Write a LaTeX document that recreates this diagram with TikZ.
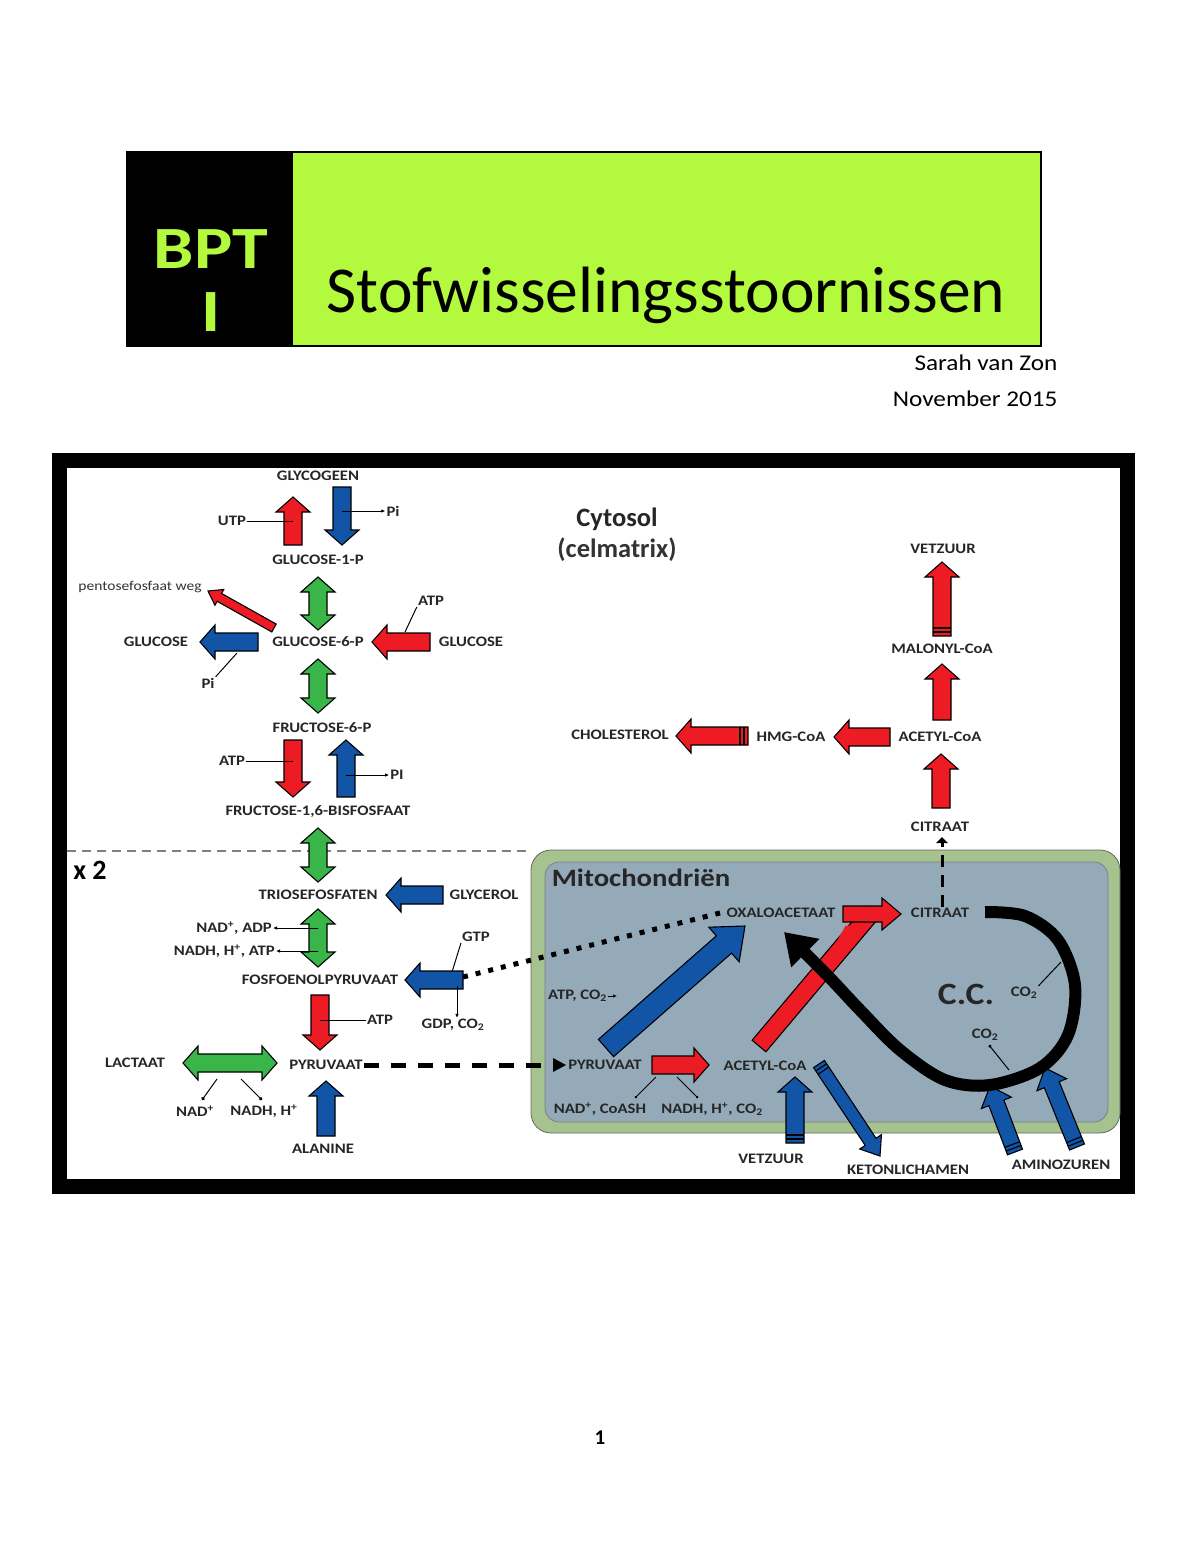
\documentclass[tikz,border=0pt]{standalone}
\usepackage{fontspec}
\setmainfont{Carlito}
\newfontfamily\lblfont{Carlito}[FakeStretch=1.15]
\newfontfamily\widefont{Carlito}[FakeStretch=1.2]
\newfontfamily\authfont{Carlito}[FakeStretch=1.12]
\usetikzlibrary{calc,arrows.meta}
\definecolor{hred}{RGB}{237,28,36}
\definecolor{hblue}{RGB}{18,84,166}
\definecolor{hgreen}{RGB}{57,181,74}
\definecolor{lime}{RGB}{179,249,62}
\definecolor{mitoout}{RGB}{166,194,142}
\definecolor{mitoin}{RGB}{148,170,185}
\def\sw{9pt}\def\hw{17pt}\def\hl{15pt}
\tikzset{
  blk/.style={draw=black, line width=1.1pt, line join=miter},
  lbl/.style={font=\lblfont\fontsize{14.5}{16}\selectfont\bfseries, inner sep=1pt, text=black!85},
  thin/.style={draw=black, line width=1pt},
  tip/.style={-{Latex[length=4pt,width=3.5pt]}},
}
\newcommand\barrow[3]{%
  \coordinate (bhB) at ($(#3)!\hl!(#2)$);
  \draw[blk,fill=#1] ($(#2)!\sw!90:(#3)$) -- ($(bhB)!\sw!90:(#3)$) -- ($(bhB)!\hw!90:(#3)$) -- (#3)
    -- ($(bhB)!\hw!-90:(#3)$) -- ($(bhB)!\sw!-90:(#3)$) -- ($(#2)!\sw!-90:(#3)$) -- cycle;}
\newcommand\darrow[3]{%
  \coordinate (bhA) at ($(#2)!\hl!(#3)$);
  \coordinate (bhB) at ($(#3)!\hl!(#2)$);
  \draw[blk,fill=#1] (#2) -- ($(bhA)!\hw!90:(#3)$) -- ($(bhA)!\sw!90:(#3)$) -- ($(bhB)!\sw!90:(#3)$)
    -- ($(bhB)!\hw!90:(#3)$) -- (#3) -- ($(bhB)!\hw!-90:(#3)$) -- ($(bhB)!\sw!-90:(#3)$)
    -- ($(bhA)!\sw!-90:(#3)$) -- ($(bhA)!\hw!-90:(#3)$) -- cycle;}
\newcommand\stripes[2]{%
  \foreach \dd in {4pt,8pt}{%
    \coordinate (stp) at ($(#1)!\dd!(#2)$);
    \draw[blk] ($(stp)!\sw!90:(#2)$) -- ($(stp)!\sw!-90:(#2)$);}}
\begin{document}
\begin{tikzpicture}[x=1pt,y=-1pt]
\useasboundingbox (0,0) rectangle (1200,1553);
\fill[white] (0,0) rectangle (1200,1553);
% ---------- header ----------
\fill[black] (127,152) rectangle (293,346);
\fill[lime] (293,152) rectangle (1041,346);
\draw[line width=2pt] (127,152) rectangle (1041,346);
\node[font=\widefont\fontsize{60}{60}\selectfont\bfseries, text=lime] (bpt) at (211,249) {BPT};
\node[font=\widefont\fontsize{60}{60}\selectfont\bfseries, text=lime] (bpti) at (211,312) {I};
\node[font=\fontsize{65.5}{66}\selectfont] (title) at (666,295) {Stofwisselingsstoornissen};
\node[font=\authfont\fontsize{22.5}{23}\selectfont, anchor=east] (auth) at (1061,363) {Sarah van Zon};
\node[font=\authfont\fontsize{22.5}{23}\selectfont, anchor=east] (date) at (1061,399) {November 2015};
\node[font=\fontsize{21}{21}\selectfont\bfseries] (pagenr) at (600,1438) {1};
% ---------- frame ----------
\fill[black] (52,453) rectangle (1135,1194);
\fill[white] (67,468) rectangle (1120,1179);
% mitochondrion
\draw[fill=mitoout, draw=black!60, line width=0.8pt, rounded corners=20pt] (531,850) rectangle (1120,1133);
\draw[fill=mitoin, draw=black!50, line width=0.8pt, rounded corners=14pt] (545,862) rectangle (1108,1122);
% dashed separation line
\draw[gray, line width=1.3pt, dash pattern=on 9pt off 6pt] (67,851) -- (531,851);
% ---------- labels ----------
\node[lbl] (glycogeen) at (318,476) {GLYCOGEEN};
\node[lbl] (g1p) at (318,560) {GLUCOSE-1-P};
\node[lbl] (g6p) at (318,642) {GLUCOSE-6-P};
\node[lbl] (glcL) at (156,642) {GLUCOSE};
\node[lbl] (glcR) at (471,642) {GLUCOSE};
\node[font=\lblfont\fontsize{13.5}{15}\selectfont, inner sep=1pt, text=black!80] (pfw) at (140,587) {pentosefosfaat weg};
\node[lbl] (f6p) at (322,728) {FRUCTOSE-6-P};
\node[lbl] (f16bp) at (318,812) {FRUCTOSE-1,6-BISFOSFAAT};
\node[lbl] (triose) at (318,895) {TRIOSEFOSFATEN};
\node[lbl] (glycerol) at (484,895) {GLYCEROL};
\node[lbl] (pep) at (320,980) {FOSFOENOLPYRUVAAT};
\node[lbl] (pyr) at (326,1065) {PYRUVAAT};
\node[lbl] (lactaat) at (135,1063) {LACTAAT};
\node[lbl] (alanine) at (323,1149) {ALANINE};
\node[lbl] (utp) at (232,521) {UTP};
\node[lbl] (pi1) at (393,511) {Pi};
\node[lbl] (atp1) at (431,601) {ATP};
\node[lbl] (pi2) at (208,683) {Pi};
\node[lbl] (atp2) at (232,761) {ATP};
\node[lbl] (pi3) at (397,775) {PI};
\node[lbl, anchor=east] (nadadp) at (273,928) {NAD\textsuperscript{+}, ADP};
\node[lbl, anchor=east] (nadhatp) at (276,951) {NADH, H\textsuperscript{+}, ATP};
\node[lbl] (gtp) at (476,937) {GTP};
\node[lbl] (gdp) at (453,1025) {GDP, CO\textsubscript{2}};
\node[lbl] (atp3) at (380,1020) {ATP};
\node[lbl] (nad) at (195,1111) {NAD\textsuperscript{+}};
\node[lbl] (nadh) at (264,1111) {NADH, H\textsuperscript{+}};
\node[font=\fontsize{28}{28}\selectfont\bfseries] (x2) at (90,870) {x 2};
% cytosol right
\node[font=\fontsize{26.5}{27}\selectfont\bfseries, text=black!85] (cyt) at (617,519) {Cytosol};
\node[font=\fontsize{26.5}{27}\selectfont\bfseries, text=black!80] (celm) at (617,550) {(celmatrix)};
\node[lbl] (vetz1) at (943,549) {VETZUUR};
\node[lbl] (malon) at (942,649) {MALONYL-CoA};
\node[lbl] (acoa1) at (940,737) {ACETYL-CoA};
\node[lbl] (hmg) at (791,737) {HMG-CoA};
\node[lbl] (chol) at (620,735) {CHOLESTEROL};
\node[lbl] (citr1) at (940,827) {CITRAAT};
% mito labels
\node[font=\lblfont\fontsize{25}{25}\selectfont\bfseries, text=black!85] (mito) at (641,878) {Mitochondriën};
\node[lbl] (oxal) at (781,913) {OXALOACETAAT};
\node[lbl] (citr2) at (940,913) {CITRAAT};
\node[lbl] (pyr2) at (605,1065) {PYRUVAAT};
\node[lbl] (acoa2) at (765,1066) {ACETYL-CoA};
\node[lbl] (nadcoash) at (600,1109) {NAD\textsuperscript{+}, CoASH};
\node[lbl] (nadhco2) at (712,1109) {NADH, H\textsuperscript{+}, CO\textsubscript{2}};
\node[lbl, anchor=east] (atpco2) at (608,996) {ATP, CO\textsubscript{2}};
\node[font=\lblfont\fontsize{31}{31}\selectfont\bfseries, text=black!85] (cc) at (966,994) {C.C.};
\node[lbl] (co2a) at (1024,993) {CO\textsubscript{2}};
\node[lbl] (co2b) at (985,1035) {CO\textsubscript{2}};
\node[lbl] (vetz2) at (771,1159) {VETZUUR};
\node[lbl] (keton) at (908,1170) {KETONLICHAMEN};
\node[lbl] (amino) at (1061,1165) {AMINOZUREN};
% ---------- arrow coordinates ----------
\coordinate (a1s) at (293,545); \coordinate (a1e) at (293,497);
\coordinate (a2s) at (342,487); \coordinate (a2e) at (342,545);
\coordinate (g1s) at (318,577); \coordinate (g1e) at (318,630);
\coordinate (pps) at (274,628); \coordinate (ppe) at (208,591);
\coordinate (a3s) at (258,642); \coordinate (a3e) at (200,642);
\coordinate (a4s) at (430,642); \coordinate (a4e) at (372,642);
\coordinate (g2s) at (318,659); \coordinate (g2e) at (318,713);
\coordinate (a5s) at (293,740); \coordinate (a5e) at (293,797);
\coordinate (a6s) at (346,797); \coordinate (a6e) at (346,740);
\coordinate (g3s) at (318,828); \coordinate (g3e) at (318,882);
\coordinate (a7s) at (443,895); \coordinate (a7e) at (386,895);
\coordinate (g4s) at (318,909); \coordinate (g4e) at (318,967);
\coordinate (a8s) at (463,980); \coordinate (a8e) at (405,980);
\coordinate (a9s) at (320,995); \coordinate (a9e) at (320,1050);
\coordinate (g5s) at (183,1063); \coordinate (g5e) at (277,1063);
\coordinate (a10s) at (326,1136); \coordinate (a10e) at (326,1081);
\coordinate (r1s) at (942,636); \coordinate (r1e) at (942,562);
\coordinate (r2s) at (942,720); \coordinate (r2e) at (942,664);
\coordinate (r3s) at (890,737); \coordinate (r3e) at (834,737);
\coordinate (r4s) at (748,736); \coordinate (r4e) at (676,736);
\coordinate (r5s) at (941,808); \coordinate (r5e) at (941,754);
\coordinate (m1s) at (606,1048); \coordinate (m1e) at (745,926);
\coordinate (m2s) at (652,1065); \coordinate (m2e) at (709,1065);
\coordinate (m3s) at (795,1143); \coordinate (m3e) at (795,1077);
\coordinate (m4s) at (819,1064); \coordinate (m4e) at (880,1156);
\coordinate (m5s) at (1015,1152); \coordinate (m5e) at (990,1086);
\coordinate (m6s) at (1077,1147); \coordinate (m6e) at (1045,1068);
\coordinate (rds) at (759,1046); \coordinate (rde) at (872,912);
\coordinate (rhs) at (843,914); \coordinate (rhe) at (901,914);
% ---------- glycolysis arrows ----------
\barrow{hred}{a1s}{a1e}
\barrow{hblue}{a2s}{a2e}
\darrow{hgreen}{g1s}{g1e}
{\def\sw{4.5pt}\def\hw{9pt}\def\hl{13pt}\barrow{hred}{pps}{ppe}}
\barrow{hblue}{a3s}{a3e}
\barrow{hred}{a4s}{a4e}
\darrow{hgreen}{g2s}{g2e}
\barrow{hred}{a5s}{a5e}
\barrow{hblue}{a6s}{a6e}
\darrow{hgreen}{g3s}{g3e}
\barrow{hblue}{a7s}{a7e}
\darrow{hgreen}{g4s}{g4e}
\barrow{hblue}{a8s}{a8e}
\barrow{hred}{a9s}{a9e}
\darrow{hgreen}{g5s}{g5e}
\barrow{hblue}{a10s}{a10e}
% ---------- cytosol right ----------
\barrow{hred}{r1s}{r1e}\stripes{r1s}{r1e}
\barrow{hred}{r2s}{r2e}
\barrow{hred}{r3s}{r3e}
\barrow{hred}{r4s}{r4e}\stripes{r4s}{r4e}
\barrow{hred}{r5s}{r5e}
% ---------- side lines ----------
\draw[thin] (utp.east) -- (a1s |- utp.east);
\draw[thin,tip] (a2s |- pi1.west) -- (pi1.west);
\draw[thin] (atp1.south west) -- (405,632);
\draw[thin] (pi2.north east) -- (237,653);
\draw[thin] (atp2.east) -- (a5s |- atp2.east);
\draw[thin,tip] (a6s |- pi3.west) -- (pi3.west);
\draw[thin,tip] (g4s |- nadadp.east) -- (nadadp.east);
\draw[thin,tip] (g4s |- nadhatp.east) -- (nadhatp.east);
\draw[thin] (gtp.south west) -- (452,972);
\draw[thin,tip] (457,986) -- (gdp.north -| 457,0);
\draw[thin] (a9s |- atp3.west) -- (atp3.west);
\coordinate (nadend) at (202,1100);
\coordinate (nadhend) at (262,1100);
\draw[thin, -{Circle[length=3.5pt]}] (217,1079) -- (nadend);
\draw[thin, -{Circle[length=3.5pt]}] (241,1079) -- (nadhend);
% ---------- long dashed / dotted ----------
\draw[line width=5pt, dash pattern=on 5pt off 8pt] (a8s) ++(0,-3) -- (720,913);
\draw[line width=5pt, dash pattern=on 15pt off 12pt] (pyr.east) -- (552,1065);
\fill (566,1065) -- (553,1058) -- (553,1072) -- cycle;
\draw[line width=3pt, dash pattern=on 12pt off 8pt] (citr2.north -| 942,0) -- (942,843);
\fill (942,837) -- (936,843) -- (948,843) -- cycle;
% ---------- mito arrows ----------
{\def\sw{11.5pt}\def\hw{23pt}\def\hl{28pt}\barrow{hblue}{m1s}{m1e}}
\draw[thin,tip] (atpco2.east) -- (617,996);
\barrow{hred}{m2s}{m2e}
\coordinate (pl1) at (635,1098); \coordinate (pl2) at (698,1098);
\draw[thin, {Circle[length=2.5pt]}-] (pl1) -- (656,1077);
\draw[thin, -{Circle[length=2.5pt]}] (677,1077) -- (pl2);
\barrow{hblue}{m3s}{m3e}\stripes{m3s}{m3e}
{\def\sw{6.5pt}\def\hw{13pt}\def\hl{17pt}\barrow{hblue}{m4s}{m4e}\stripes{m4s}{m4e}}
{\def\sw{8pt}\def\hw{16pt}\def\hl{18pt}\barrow{hblue}{m5s}{m5e}\stripes{m5s}{m5e}
\barrow{hblue}{m6s}{m6e}\stripes{m6s}{m6e}}
% red bent arrow
{\def\sw{8pt}\def\hw{16pt}\def\hl{19pt}
\draw[blk, fill=hred] ($(rds)!9pt!90:(rde)$) -- ($(rde)!9pt!-90:(rds)$) -- ($(rde)!9pt!90:(rds)$) -- ($(rds)!9pt!-90:(rde)$) -- cycle;
\barrow{hred}{rhs}{rhe}
\fill[hred] ($(rds)!0.75!(rde)$) ++(-6,-6) -- ++(20,0) -- ++(0,-14) -- ++(-12,0) -- cycle;}
% Krebs cycle
\draw[line width=12pt, line cap=butt, line join=round, -{Triangle[length=30pt,width=38pt]}]
  plot[smooth, tension=0.55] coordinates {(985,912) (1025,916) (1058,940) (1075,985) (1068,1035) (1040,1068) (990,1085) (945,1080) (900,1050) (860,1010) (828,976) (784,932)};
\draw[thin] (co2a.north east) -- (1061,962);
\draw[thin, {Circle[length=3pt]}-] (co2b.south) ++(4,3) -- (1009,1070);
\end{tikzpicture}
\end{document}
